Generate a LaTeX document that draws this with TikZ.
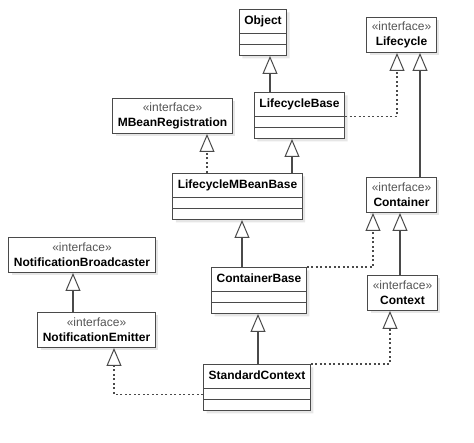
\documentclass[tikz,border=0pt]{standalone}
\usepackage{fontspec}
\setmainfont{Liberation Sans}
\usetikzlibrary{arrows.meta,shapes.multipart,shadows}
\definecolor{umlline}{HTML}{4A4A4A}
\definecolor{umlstereo}{HTML}{555555}
\definecolor{umlshade}{HTML}{E6E6E6}

\newcommand{\cls}[1]{\strut #1\nodepart{two}\rule{0pt}{1pt}\nodepart{three}\rule{0pt}{1pt}}
\newcommand{\iface}[1]{{\mdseries\color{umlstereo}«interface»}\\#1}

\begin{document}
\begin{tikzpicture}[x=1pt,y=-1pt,
    box/.style={draw=umlline,line width=1pt,fill=white,inner xsep=5pt,
      font=\fontsize{12}{14}\selectfont\bfseries,
      drop shadow={shadow xshift=3pt,shadow yshift=-3pt,fill=umlshade,opacity=1}},
    klass/.style={box,rectangle split,rectangle split parts=3,
      inner ysep=4.5pt,anchor=north},
    intf/.style={box,align=center,minimum height=35pt,inner ysep=2pt,anchor=north,
      font=\fontsize{12}{15}\selectfont\bfseries},
    gen/.style={draw=umlline,line width=1.2pt,
      -{Triangle[open,length=18pt,width=15pt,line width=1pt]}},
    real/.style={gen,dash pattern=on 2pt off 2.5pt}]
    \useasboundingbox (0,0) rectangle (474,443);

    % classes and interfaces
    \node[klass] (object) at (263,9) {\cls{Object}};
    \node[intf] (lifecycle) at (401.5,17) {\iface{Lifecycle}};
    \node[klass] (lcbase) at (299.5,92) {\cls{LifecycleBase}};
    \node[intf] (mbreg) at (172.5,98) {\iface{MBeanRegistration}};
    \node[klass] (lmbb) at (237.5,173) {\cls{LifecycleMBeanBase}};
    \node[intf] (container) at (401.5,177) {\iface{Container}};
    \node[intf] (nbroad) at (82,237) {\iface{NotificationBroadcaster}};
    \node[klass] (ctbase) at (259,267) {\cls{ContainerBase}};
    \node[intf] (context) at (402.5,275) {\iface{Context}};
    \node[intf] (nemit) at (96.5,312) {\iface{NotificationEmitter}};
    \node[klass] (stdctx) at (257,364) {\cls{StandardContext}};

    % where the arrows meet their targets
    \coordinate (tObj) at ([xshift=7pt]object.south);
    \coordinate (tLcyA) at ([xshift=-4.5pt]lifecycle.south);
    \coordinate (tLcyB) at ([xshift=18.5pt]lifecycle.south);
    \coordinate (tLcB) at ([xshift=-7.5pt]lcbase.south);
    \coordinate (tMBR) at ([xshift=34.5pt]mbreg.south);
    \coordinate (tLMBB) at ([xshift=4.5pt]lmbb.south);
    \coordinate (tCtrA) at ([xshift=-28.5pt]container.south);
    \coordinate (tCtrB) at ([xshift=-1.5pt]container.south);
    \coordinate (tNB) at ([xshift=-9pt]nbroad.south);
    \coordinate (tNE) at ([xshift=17.5pt]nemit.south);
    \coordinate (tCB) at ([xshift=-1pt]ctbase.south);
    \coordinate (tCtx) at ([xshift=-12.5pt]context.south);

    % generalization and realization
    \draw[gen] (tObj |- lcbase.north) -- (tObj);
    \draw[real] (lcbase.text split east) -| (tLcyA);
    \draw[gen] (tLcyB |- container.north) -- (tLcyB);
    \draw[gen] (tLcB |- lmbb.north) -- (tLcB);
    \draw[real] (tMBR |- lmbb.north) -- (tMBR);
    \draw[gen] (tLMBB |- ctbase.north) -- (tLMBB);
    \draw[real] (ctbase.north east) -| (tCtrA);
    \draw[gen] (tCtrB |- context.north) -- (tCtrB);
    \draw[gen] (tNB |- nemit.north) -- (tNB);
    \draw[gen] (tCB |- stdctx.north) -- (tCB);
    \draw[real] (stdctx.north east) -| (tCtx);
    \draw[real] ([yshift=-6pt]stdctx.text split west) -| (tNE);
\end{tikzpicture}
\end{document}
